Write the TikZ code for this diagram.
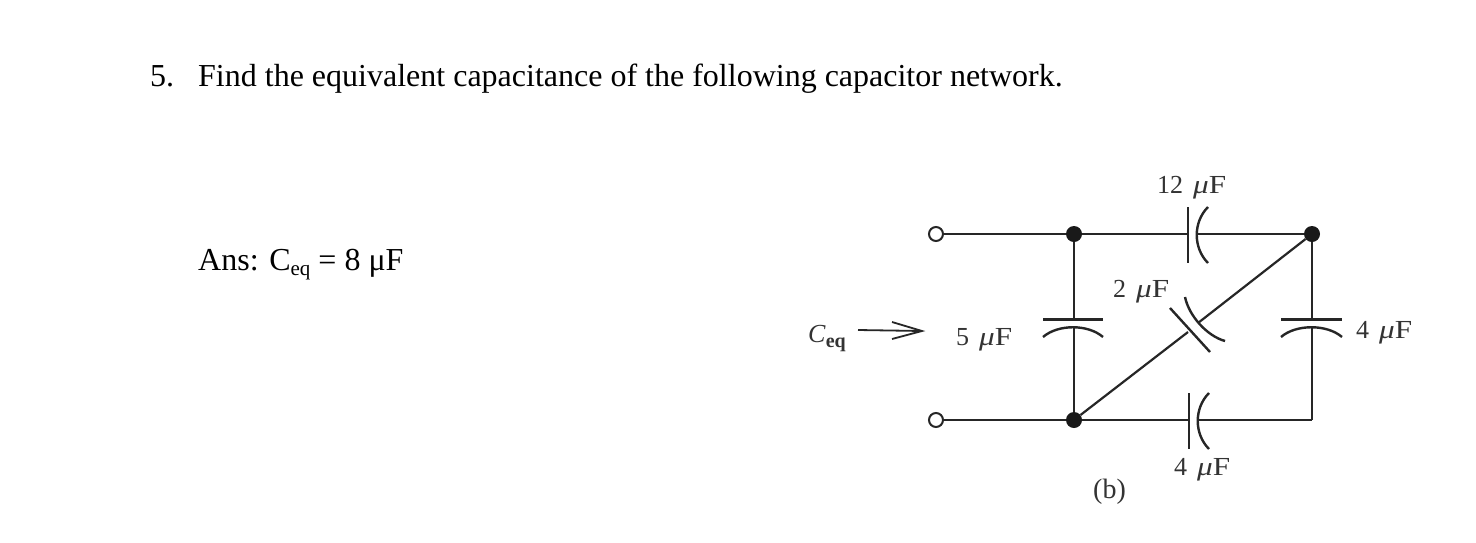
\documentclass[tikz,border=0pt]{standalone}
\usepackage{graphicx}
\usepackage{fontspec}
\setmainfont{Liberation Serif}
\tikzset{
  wire/.style={draw=black!85,line width=1.8pt},
  plate/.style={draw=black!85,line width=2.4pt},
  dotnode/.style={circle,fill=black!90,inner sep=0pt,minimum size=16pt},
  termnode/.style={circle,draw=black!85,fill=white,line width=2pt,inner sep=0pt,minimum size=14pt},
  qtext/.style={anchor=base west,inner sep=0pt,text=black,font=\fontsize{32}{36}\selectfont},
  figtext/.style={anchor=base west,inner sep=0pt,text=black!80,font=\fontsize{26}{30}\selectfont}
}
\newcommand{\muF}[1]{#1\hspace{10pt}\scalebox{1.2}[1]{\textit{μ}F}}
\begin{document}
\begin{tikzpicture}[x=1pt,y=-1pt]
\useasboundingbox[fill=white] (0,0) rectangle (1476,542);
% question text
\node[qtext] (num) at (150,86) {5.};
\node[qtext] (title) at (198,86) {Find the equivalent capacitance of the following capacitor network.};
\node[qtext] (ans) at (198,270) {Ans: C\raisebox{-5pt}{\fontsize{21}{24}\selectfont eq} = 8 μF};
% junctions and terminals
\node[dotnode] (tl) at (1074,234) {};
\node[dotnode] (tr) at (1312,234) {};
\node[dotnode] (bl) at (1074,420) {};
\coordinate (br) at (1312,420);
\node[termnode] (t1) at (936,234) {};
\node[termnode] (t2) at (936,420) {};
% capacitor plate anchor points
\coordinate (c12a) at (1188,234);
\coordinate (c12b) at (1197,234);
\coordinate (c4a) at (1189,420);
\coordinate (c4b) at (1198,420);
\coordinate (c5a) at (1074,319);
\coordinate (c5b) at (1074,327);
\coordinate (c4ra) at (1312,319);
\coordinate (c4rb) at (1312,327);
\coordinate (c2a) at (1188,332);
\coordinate (c2b) at (1198,323);
% wires
\draw[wire] (t1) -- (tl);
\draw[wire] (t2) -- (bl);
\draw[wire] (tl) -- (c12a);
\draw[wire] (c12b) -- (tr);
\draw[wire] (bl) -- (c4a);
\draw[wire] (c4b) -- (br);
\draw[wire] (tl) -- (c5a);
\draw[wire] (c5b) -- (bl);
\draw[wire] (tr) -- (c4ra);
\draw[wire] (c4rb) -- (br);
\draw[wire,line width=2.2pt] (bl) -- (c2a);
\draw[wire,line width=2.2pt] (c2b) -- (tr);
% plates
\draw[plate] (1188,207) -- (1188,263);
\draw[plate] (1208,207) .. controls (1193,222) and (1193,248) .. (1208,263);
\draw[plate] (1189,393) -- (1189,449);
\draw[plate] (1209,393) .. controls (1194,408) and (1194,434) .. (1209,449);
\draw[plate] (1043,319.5) -- (1103,319.5);
\draw[plate] (1043,337) .. controls (1058,324) and (1088,324) .. (1103,337);
\draw[plate] (1281,319.5) -- (1342,319.5);
\draw[plate] (1281,337) .. controls (1296,324) and (1327,324) .. (1342,337);
\draw[plate] (1170,308) -- (1210,352);
\draw[plate] (1185,297) .. controls (1189,316) and (1207,336) .. (1225,341);
% figure labels
\node[figtext] (l12) at (1157,193) {\muF{12}};
\node[figtext] (l2) at (1113,297) {\muF{2}};
\node[figtext] (l5) at (956,345) {\muF{5}};
\node[figtext] (l4r) at (1356,338) {\muF{4}};
\node[figtext] (l4b) at (1174,475) {\muF{4}};
\node[figtext,font=\fontsize{28}{32}\selectfont] (lb) at (1093,498) {(b)};
\node[figtext] (lc) at (808,342) {\textit{C}\raisebox{-5pt}{\fontsize{20}{24}\selectfont\bfseries eq}};
% arrow
\coordinate (as) at (858,330);
\coordinate (at) at (922,331);
\draw[wire] (as) -- (at);
\draw[wire] (892,322) -- (at) -- (892,339);
\end{tikzpicture}
\end{document}
